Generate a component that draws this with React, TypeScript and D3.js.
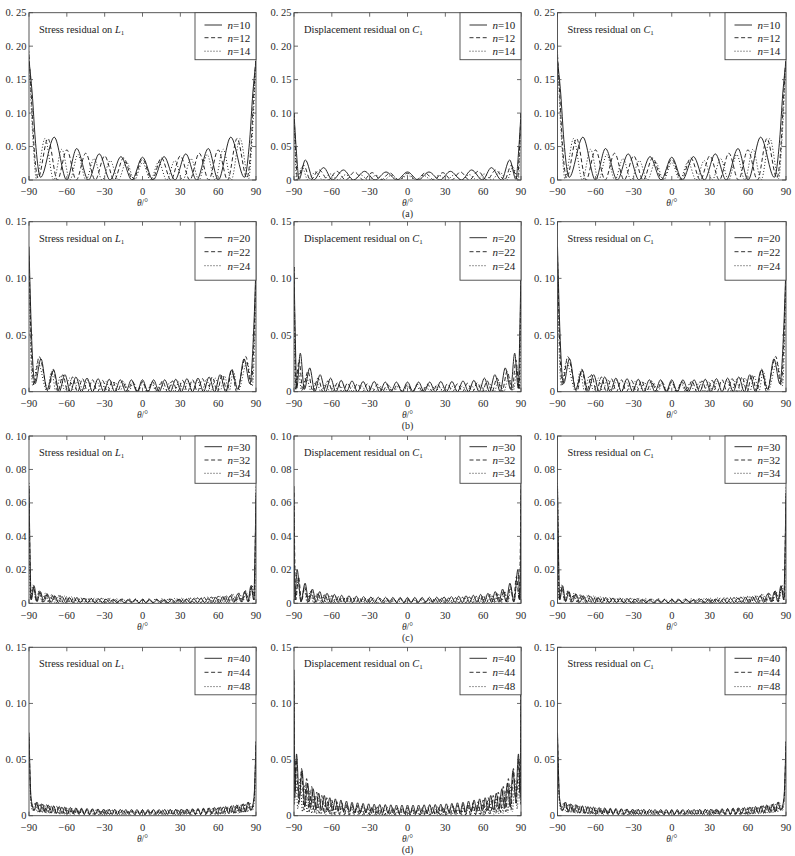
import React from "react";
import * as d3 from "d3";

// ---------- axis ticks ----------
const xTickValues = [-90, -60, -30, 0, 30, 60, 90];
const xTickLabels = ["\u221290", "\u221260", "\u221230", "0", "30", "60", "90"];
const yTicksA = [0, 0.05, 0.1, 0.15, 0.2, 0.25];
const yLabelsA = ["0", "0. 05", "0. 10", "0. 15", "0. 20", "0. 25"];
const yTicksB = [0, 0.05, 0.1, 0.15];
const yLabelsB = ["0", "0. 05", "0. 10", "0. 15"];
const yTicksC = [0, 0.02, 0.04, 0.06, 0.08, 0.1];
const yLabelsC = ["0", "0. 02", "0. 04", "0. 06", "0. 08", "0. 10"];

// ---------- legend n values ----------
const nA = [10, 12, 14];
const nB = [20, 22, 24];
const nC = [30, 32, 34];
const nD = [40, 44, 48];

const panelTags = ["(a)", "(b)", "(c)", "(d)"];
const titleMain = ["Stress residual on ", "Displacement residual on ", "Stress residual on "];
const titleSym = ["L", "C", "C"];

// ---------- series: flat [theta, value, theta, value, ...] ----------
// Row (a) stress
const aS10 = [-90,.178,-87.5,.13,-85,.06,-80.8,.004,-70,.064,-60.1,0,-52.2,.047,-42.9,0,-34.3,.039,-25.7,0,-17.1,.035,-8.4,0,0,.034,8.4,0,17.1,.035,25.7,0,34.3,.039,42.9,0,52.2,.047,60.1,0,70,.064,80.8,.004,85,.06,87.5,.13,90,.178];
const aS12 = [-90,.186,-88,.12,-86,.05,-82.8,.003,-75,.062,-67.5,0,-60,.045,-52.5,0,-45,.04,-37.5,0,-30,.036,-22.5,0,-15,.033,-7.5,0,0,.031,7.5,0,15,.033,22.5,0,30,.036,37.5,0,45,.04,52.5,0,60,.045,67.5,0,75,.062,82.8,.003,86,.05,88,.12,90,.186];
const aS14 = [-90,.192,-88.5,.12,-86.5,.05,-84.2,.002,-77.3,.062,-70.4,0,-64,.046,-57.6,0,-51.2,.038,-44.8,0,-38.4,.032,-32,0,-25.6,.029,-19.2,0,-12.8,.027,-6.4,0,0,.026,6.4,0,12.8,.027,19.2,0,25.6,.029,32,0,38.4,.032,44.8,0,51.2,.038,57.6,0,64,.046,70.4,0,77.3,.062,84.2,.002,86.5,.05,88.5,.12,90,.192];
// Row (a) displacement
const aD10 = [-90,.1,-88,.04,-86,.001,-81,.03,-74.5,0,-66.5,.0185,-59.5,0,-50.8,.015,-42.8,0,-34,.013,-25.7,0,-17,.012,-8.5,0,0,.012,8.5,0,17,.012,25.7,0,34,.013,42.8,0,50.8,.015,59.5,0,66.5,.0185,74.5,0,81,.03,86,.001,88,.04,90,.1];
const aD12 = [-90,.1,-88.6,.04,-87.3,.001,-82.3,.022,-77,0,-70,.015,-63,0,-56,.013,-49,0,-42,.012,-35,0,-28,.011,-21,0,-14,.0105,-7,0,0,.01,7,0,14,.0105,21,0,28,.011,35,0,42,.012,49,0,56,.013,63,0,70,.015,77,0,82.3,.022,87.3,.001,88.6,.04,90,.1];
const aD14 = [-90,.1,-89,.04,-88,.001,-83.5,.019,-79,0,-73,.012,-67,0,-61,.009,-55,0,-49,.008,-43,0,-37,.0075,-31,0,-25,.007,-19,0,-12.7,.007,-6.4,0,0,.007,6.4,0,12.7,.007,19,0,25,.007,31,0,37,.0075,43,0,49,.008,55,0,61,.009,67,0,73,.012,79,0,83.5,.019,88,.001,89,.04,90,.1];

// Row (b) stress
const bS20 = [-90,.128,-88,.05,-85.2,.007,-80.5,.029,-75.7,.002,-70.5,.019,-66,0,-61.5,.015,-57.2,0,-52.8,.013,-48.4,0,-44,.012,-39.6,0,-35.2,.0115,-30.8,0,-26.4,.011,-22,0,-17.6,.0105,-13.2,0,-8.8,.0105,-4.4,0,0,.0105,4.4,0,8.8,.0105,13.2,0,17.6,.0105,22,0,26.4,.011,30.8,0,35.2,.0115,39.6,0,44,.012,48.4,0,52.8,.013,57.2,0,61.5,.015,66,0,70.5,.019,75.7,.002,80.5,.029,85.2,.007,88,.05,90,.112];
const bS22 = [-90,.12,-88.5,.05,-86,.006,-82,.031,-74.6,0,-70.8,.02,-67,0,-63.15,.015,-59.3,0,-55.4,.013,-51.5,0,-47.55,.0115,-43.6,0,-39.65,.0105,-35.7,0,-31.75,.01,-27.8,0,-23.8,.0095,-19.85,0,-15.9,.0095,-11.9,0,-7.9,.009,-3.95,0,0,.009,3.95,0,7.9,.009,11.9,0,15.9,.0095,19.85,0,23.8,.0095,27.8,0,31.75,.01,35.7,0,39.65,.0105,43.6,0,47.55,.0115,51.5,0,55.4,.013,59.3,0,63.15,.015,67,0,70.8,.02,74.6,0,82,.031,86,.006,88.5,.05,90,.11];
const bS24 = [-90,.115,-89,.05,-87,.005,-83,.026,-75.6,0,-72.1,.018,-68.6,0,-65,.014,-61.5,0,-57.9,.012,-54.3,0,-50.7,.011,-47.1,0,-43.5,.01,-39.85,0,-36.2,.0095,-32.6,0,-29,.009,-25.35,0,-21.7,.0085,-18.1,0,-14.5,.008,-10.85,0,-7.25,.008,-3.6,0,0,.008,3.6,0,7.25,.008,10.85,0,14.5,.008,18.1,0,21.7,.0085,25.35,0,29,.009,32.6,0,36.2,.0095,39.85,0,43.5,.01,47.1,0,50.7,.011,54.3,0,57.9,.012,61.5,0,65,.014,68.6,0,72.1,.018,75.6,0,83,.026,87,.005,89,.05,90,.105];
// Row (b) displacement
const bD20 = [-90,.11,-89,.05,-87.8,.003,-85,.034,-81.8,.002,-77.5,.021,-73.5,0,-69.3,.015,-65,0,-61,.012,-56.8,0,-52.6,.01,-48.4,0,-44,.0095,-39.6,0,-35.2,.009,-30.8,0,-26.4,.009,-22,0,-17.6,.0085,-13.2,0,-8.8,.0085,-4.4,0,0,.0085,4.4,0,8.8,.0085,13.2,0,17.6,.0085,22,0,26.4,.009,30.8,0,35.2,.009,39.6,0,44,.0095,48.4,0,52.6,.01,56.8,0,61,.012,65,0,69.3,.015,73.5,0,77.5,.021,81.8,.002,85,.034,87.8,.003,89,.05,90,.11];
const bD22 = [-90,.11,-89.3,.05,-88.5,.002,-86,.028,-83,.001,-79,.018,-75,0,-71,.012,-67,0,-63.15,.0095,-59.3,0,-55.4,.008,-51.5,0,-47.55,.0075,-43.6,0,-39.65,.007,-35.7,0,-31.75,.007,-27.8,0,-23.8,.0065,-19.85,0,-15.9,.0065,-11.9,0,-7.9,.0065,-3.95,0,0,.0065,3.95,0,7.9,.0065,11.9,0,15.9,.0065,19.85,0,23.8,.0065,27.8,0,31.75,.007,35.7,0,39.65,.007,43.6,0,47.55,.0075,51.5,0,55.4,.008,59.3,0,63.15,.0095,67,0,71,.012,75,0,79,.018,83,.001,86,.028,88.5,.002,89.3,.05,90,.11];
const bD24 = [-90,.11,-89.5,.05,-89,.002,-86.8,.02,-84,.001,-80.3,.013,-76.3,0,-72.4,.009,-68.6,0,-65,.007,-61.5,0,-57.9,.006,-54.3,0,-50.7,.0055,-47.1,0,-43.5,.005,-39.85,0,-36.2,.005,-32.6,0,-29,.0048,-25.35,0,-21.7,.0048,-18.1,0,-14.5,.0048,-10.85,0,-7.25,.0048,-3.6,0,0,.0048,3.6,0,7.25,.0048,10.85,0,14.5,.0048,18.1,0,21.7,.0048,25.35,0,29,.0048,32.6,0,36.2,.005,39.85,0,43.5,.005,47.1,0,50.7,.0055,54.3,0,57.9,.006,61.5,0,65,.007,68.6,0,72.4,.009,76.3,0,80.3,.013,84,.001,86.8,.02,89,.002,89.5,.05,90,.11];

// Row (c) stress
const cS30 = [-90,.07,-89.2,.03,-88.2,.002,-86,.0105,-83.6,.001,-81,.007,-78.3,.0008,-75.4,.0055,-72.5,.0005,-69.6,.0045,-66.7,.0005,-63.8,.004,-60.9,.0004,-58,.0035,-55.1,.0004,-52.2,.0032,-49.3,.0003,-46.4,.003,-43.5,.0003,-40.6,.0028,-37.7,.0003,-34.8,.0026,-31.9,.0003,-29,.0025,-26.1,.0003,-23.2,.0024,-20.3,.0003,-17.4,.0023,-14.5,.0003,-11.6,.0022,-8.7,.0003,-5.8,.0022,-2.9,.0003,0,.0022,2.9,.0003,5.8,.0022,8.7,.0003,11.6,.0022,14.5,.0003,17.4,.0023,20.3,.0003,23.2,.0024,26.1,.0003,29,.0025,31.9,.0003,34.8,.0026,37.7,.0003,40.6,.0028,43.5,.0003,46.4,.003,49.3,.0003,52.2,.0032,55.1,.0004,58,.0035,60.9,.0004,63.8,.004,66.7,.0005,69.6,.0045,72.5,.0005,75.4,.0055,78.3,.0008,81,.007,83.6,.001,86,.0105,88.2,.002,89.2,.03,90,.066];
const cS32 = [-90,.068,-89.3,.03,-88.6,.002,-86.4,.0095,-84,.001,-81.6,.0075,-79,.0007,-76.3,.006,-73.6,.0005,-70.85,.0053,-68.1,.0004,-65.4,.0047,-62.7,.0003,-59.95,.0042,-57.2,.0003,-54.5,.0038,-51.8,.0003,-49.05,.0035,-46.3,.0003,-43.6,.0033,-40.9,.0003,-38.15,.0031,-35.4,.0003,-32.7,.003,-30,.0003,-27.25,.0028,-24.5,.0003,-21.8,.0027,-19.1,.0003,-16.35,.0026,-13.6,.0003,-10.9,.0025,-8.2,.0003,-5.45,.0025,-2.7,.0003,0,.0025,2.7,.0003,5.45,.0025,8.2,.0003,10.9,.0025,13.6,.0003,16.35,.0026,19.1,.0003,21.8,.0027,24.5,.0003,27.25,.0028,30,.0003,32.7,.003,35.4,.0003,38.15,.0031,40.9,.0003,43.6,.0033,46.3,.0003,49.05,.0035,51.8,.0003,54.5,.0038,57.2,.0003,59.95,.0042,62.7,.0003,65.4,.0047,68.1,.0004,70.85,.0053,73.6,.0005,76.3,.006,79,.0007,81.6,.0075,84,.001,86.4,.0095,88.6,.002,89.3,.03,90,.064];
const cS34 = [-90,.072,-88.9,.003,-86.8,.011,-84.4,.0012,-82,.0075,-79.6,.0008,-77.1,.006,-74.5,.0006,-72,.0053,-69.4,.0004,-66.8,.0047,-64.3,.0004,-61.7,.0043,-59.1,.0004,-56.5,.004,-54,.0004,-51.4,.0037,-48.8,.0004,-46.3,.0035,-43.7,.0004,-41.1,.0034,-38.6,.0004,-36,.0032,-33.4,.0004,-30.8,.0031,-28.3,.0004,-25.7,.003,-23.1,.0004,-20.6,.0029,-18,.0004,-15.4,.0028,-12.9,.0004,-10.3,.0028,-7.7,.0004,-5.1,.0027,-2.6,.0004,0,.0027,2.6,.0004,5.1,.0027,7.7,.0004,10.3,.0028,12.9,.0004,15.4,.0028,18,.0004,20.6,.0029,23.1,.0004,25.7,.003,28.3,.0004,30.8,.0031,33.4,.0004,36,.0032,38.6,.0004,41.1,.0034,43.7,.0004,46.3,.0035,48.8,.0004,51.4,.0037,54,.0004,56.5,.004,59.1,.0004,61.7,.0043,64.3,.0004,66.8,.0047,69.4,.0004,72,.0053,74.5,.0006,77.1,.006,79.6,.0008,82,.0075,84.4,.0012,86.8,.011,88.9,.003,90,.07];
// Row (c) displacement
const cD30 = [-90,.07,-89.3,.002,-87.5,.02,-84.5,.001,-81.2,.012,-78.3,.0008,-75.4,.0085,-72.5,.0006,-69.6,.007,-66.7,.0005,-63.8,.006,-60.9,.0005,-58,.0053,-55.1,.0005,-52.2,.0048,-49.3,.0005,-46.4,.0045,-43.5,.0005,-40.6,.0042,-37.7,.0005,-34.8,.004,-31.9,.0005,-29,.0038,-26.1,.0005,-23.2,.0037,-20.3,.0005,-17.4,.0036,-14.5,.0005,-11.6,.0035,-8.7,.0005,-5.8,.0035,-2.9,.0005,0,.0035,2.9,.0005,5.8,.0035,8.7,.0005,11.6,.0035,14.5,.0005,17.4,.0036,20.3,.0005,23.2,.0037,26.1,.0005,29,.0038,31.9,.0005,34.8,.004,37.7,.0005,40.6,.0042,43.5,.0005,46.4,.0045,49.3,.0005,52.2,.0048,55.1,.0005,58,.0053,60.9,.0005,63.8,.006,66.7,.0005,69.6,.007,72.5,.0006,75.4,.0085,78.3,.0008,81.2,.012,84.5,.001,87.5,.02,89.3,.002,90,.078];
const cD32 = [-90,.066,-88.6,.002,-86.4,.016,-84,.001,-81.6,.01,-79,.0006,-76.3,.0075,-73.6,.0004,-70.85,.006,-68.1,.0003,-65.4,.0053,-62.7,.0003,-59.95,.0047,-57.2,.0003,-54.5,.0042,-51.8,.0003,-49.05,.0038,-46.3,.0003,-43.6,.0036,-40.9,.0003,-38.15,.0034,-35.4,.0003,-32.7,.0032,-30,.0003,-27.25,.0031,-24.5,.0003,-21.8,.003,-19.1,.0003,-16.35,.0029,-13.6,.0003,-10.9,.0028,-8.2,.0003,-5.45,.0028,-2.7,.0003,0,.0028,2.7,.0003,5.45,.0028,8.2,.0003,10.9,.0028,13.6,.0003,16.35,.0029,19.1,.0003,21.8,.003,24.5,.0003,27.25,.0031,30,.0003,32.7,.0032,35.4,.0003,38.15,.0034,40.9,.0003,43.6,.0036,46.3,.0003,49.05,.0038,51.8,.0003,54.5,.0042,57.2,.0003,59.95,.0047,62.7,.0003,65.4,.0053,68.1,.0003,70.85,.006,73.6,.0004,76.3,.0075,79,.0006,81.6,.01,84,.001,86.4,.016,88.6,.002,90,.07];
const cD34 = [-90,.06,-88.9,.002,-86.8,.013,-84.4,.0008,-82,.009,-79.6,.0005,-77.1,.007,-74.5,.0003,-72,.0056,-69.4,.0002,-66.8,.0048,-64.3,.0002,-61.7,.0042,-59.1,.0002,-56.5,.0037,-54,.0002,-51.4,.0033,-48.8,.0002,-46.3,.003,-43.7,.0002,-41.1,.0028,-38.6,.0002,-36,.0026,-33.4,.0002,-30.8,.0024,-28.3,.0002,-25.7,.0023,-23.1,.0002,-20.6,.0022,-18,.0002,-15.4,.0021,-12.9,.0002,-10.3,.002,-7.7,.0002,-5.1,.002,-2.6,.0002,0,.002,2.6,.0002,5.1,.002,7.7,.0002,10.3,.002,12.9,.0002,15.4,.0021,18,.0002,20.6,.0022,23.1,.0002,25.7,.0023,28.3,.0002,30.8,.0024,33.4,.0002,36,.0026,38.6,.0002,41.1,.0028,43.7,.0002,46.3,.003,48.8,.0002,51.4,.0033,54,.0002,56.5,.0037,59.1,.0002,61.7,.0042,64.3,.0002,66.8,.0048,69.4,.0002,72,.0056,74.5,.0003,77.1,.007,79.6,.0005,82,.009,84.4,.0008,86.8,.013,88.9,.002,90,.065];

// Row (d) stress
const dS40 = [-90,.074,-88.3,.015,-85.8,.005,-83.6,.012,-81.4,.0032,-79.2,.0103,-77,.0027,-74.8,.0095,-72.6,.0023,-70.4,.0088,-68.2,.002,-66,.0082,-63.8,.0018,-61.6,.0077,-59.4,.0016,-57.2,.0073,-55,.0015,-52.8,.007,-50.6,.0014,-48.4,.0067,-46.2,.0013,-44,.0064,-41.8,.0012,-39.6,.0062,-37.4,.0012,-35.2,.006,-33,.0012,-30.8,.0059,-28.6,.0012,-26.4,.0058,-24.2,.0012,-22,.0057,-19.8,.0012,-17.6,.0056,-15.4,.0012,-13.2,.0055,-11,.0012,-8.8,.0055,-6.6,.0012,-4.4,.0055,-2.2,.0012,0,.0055,2.2,.0012,4.4,.0055,6.6,.0012,8.8,.0055,11,.0012,13.2,.0055,15.4,.0012,17.6,.0056,19.8,.0012,22,.0057,24.2,.0012,26.4,.0058,28.6,.0012,30.8,.0059,33,.0012,35.2,.006,37.4,.0012,39.6,.0062,41.8,.0012,44,.0064,46.2,.0013,48.4,.0067,50.6,.0014,52.8,.007,55,.0015,57.2,.0073,59.4,.0016,61.6,.0077,63.8,.0018,66,.0082,68.2,.002,70.4,.0088,72.6,.0023,74.8,.0095,77,.0027,79.2,.0103,81.4,.0032,83.6,.012,85.8,.005,88.3,.015,90,.066];
const dS44 = [-90,.07,-88.4,.014,-86,.0045,-84,.012,-82,.0032,-80,.0106,-78,.0027,-76,.0098,-74,.0023,-72,.009,-70,.002,-68,.0083,-66,.0017,-64,.0077,-62,.0015,-60,.0072,-58,.0013,-56,.0068,-54,.0012,-52,.0065,-50,.0011,-48,.0062,-46,.001,-44,.0059,-42,.001,-40,.0057,-38,.001,-36,.0055,-34,.001,-32,.0053,-30,.001,-28,.0052,-26,.001,-24,.0051,-22,.001,-20,.005,-18,.001,-16,.0049,-14,.001,-12,.0048,-10,.001,-8,.0048,-6,.001,-4,.0048,-2,.001,0,.0048,2,.001,4,.0048,6,.001,8,.0048,10,.001,12,.0048,14,.001,16,.0049,18,.001,20,.005,22,.001,24,.0051,26,.001,28,.0052,30,.001,32,.0053,34,.001,36,.0055,38,.001,40,.0057,42,.001,44,.0059,46,.001,48,.0062,50,.0011,52,.0065,54,.0012,56,.0068,58,.0013,60,.0072,62,.0015,64,.0077,66,.0017,68,.0083,70,.002,72,.009,74,.0023,76,.0098,78,.0027,80,.0106,82,.0032,84,.012,86,.0045,88.4,.014,90,.066];
const dS48 = [-90,.068,-88.6,.013,-87,.0045,-85.1,.0115,-83.3,.0031,-81.4,.0104,-79.6,.0026,-77.7,.0095,-75.9,.0022,-74,.0087,-72.2,.0019,-70.3,.008,-68.5,.0016,-66.6,.0074,-64.8,.0014,-62.9,.0069,-61.1,.0012,-59.2,.0065,-57.4,.0011,-55.5,.0061,-53.7,.001,-51.8,.0058,-50,.0009,-48.1,.0055,-46.3,.0008,-44.4,.0053,-42.6,.0008,-40.7,.0051,-38.9,.0008,-37,.0049,-35.2,.0008,-33.3,.0047,-31.5,.0008,-29.6,.0046,-27.8,.0008,-25.9,.0045,-24.1,.0008,-22.2,.0044,-20.4,.0008,-18.5,.0043,-16.7,.0008,-14.8,.0043,-13,.0008,-11.1,.0042,-9.3,.0008,-7.4,.0042,-5.6,.0008,-3.7,.0042,-1.9,.0008,0,.0042,1.9,.0008,3.7,.0042,5.6,.0008,7.4,.0042,9.3,.0008,11.1,.0042,13,.0008,14.8,.0043,16.7,.0008,18.5,.0043,20.4,.0008,22.2,.0044,24.1,.0008,25.9,.0045,27.8,.0008,29.6,.0046,31.5,.0008,33.3,.0047,35.2,.0008,37,.0049,38.9,.0008,40.7,.0051,42.6,.0008,44.4,.0053,46.3,.0008,48.1,.0055,50,.0009,51.8,.0058,53.7,.001,55.5,.0061,57.4,.0011,59.2,.0065,61.1,.0012,62.9,.0069,64.8,.0014,66.6,.0074,68.5,.0016,70.3,.008,72.2,.0019,74,.0087,75.9,.0022,77.7,.0095,79.6,.0026,81.4,.0104,83.3,.0031,85.1,.0115,87,.0045,88.6,.013,90,.064];
// Row (d) displacement
const dD40 = [-90,.13,-89.2,.02,-88,.055,-85.8,.015,-83.6,.04,-81.4,.008,-79.2,.029,-77,.0065,-74.8,.024,-72.6,.0055,-70.4,.02,-68.2,.005,-66,.018,-63.8,.0046,-61.6,.016,-59.4,.0042,-57.2,.015,-55,.0038,-52.8,.014,-50.6,.0035,-48.4,.013,-46.2,.0032,-44,.012,-41.8,.003,-39.6,.0115,-37.4,.0028,-35.2,.011,-33,.0026,-30.8,.0106,-28.6,.0024,-26.4,.0103,-24.2,.0022,-22,.01,-19.8,.002,-17.6,.0099,-15.4,.002,-13.2,.0097,-11,.002,-8.8,.0095,-6.6,.002,-4.4,.0095,-2.2,.002,0,.0095,2.2,.002,4.4,.0095,6.6,.002,8.8,.0095,11,.002,13.2,.0097,15.4,.002,17.6,.0099,19.8,.002,22,.01,24.2,.0022,26.4,.0103,28.6,.0024,30.8,.0106,33,.0026,35.2,.011,37.4,.0028,39.6,.0115,41.8,.003,44,.012,46.2,.0032,48.4,.013,50.6,.0035,52.8,.014,55,.0038,57.2,.015,59.4,.0042,61.6,.016,63.8,.0046,66,.018,68.2,.005,70.4,.02,72.6,.0055,74.8,.024,77,.0065,79.2,.029,81.4,.008,83.6,.04,85.8,.015,88,.055,89.2,.02,90,.125];
const dD44 = [-90,.12,-89.4,.015,-88.5,.05,-86,.01,-84,.042,-82,.005,-80,.033,-78,.0035,-76,.026,-74,.0028,-72,.021,-70,.0022,-68,.018,-66,.0018,-64,.016,-62,.0015,-60,.014,-58,.0012,-56,.0125,-54,.001,-52,.0115,-50,.0008,-48,.0105,-46,.0007,-44,.0098,-42,.0006,-40,.0092,-38,.0005,-36,.0087,-34,.0005,-32,.0083,-30,.0005,-28,.008,-26,.0005,-24,.0078,-22,.0005,-20,.0076,-18,.0005,-16,.0074,-14,.0005,-12,.0073,-10,.0005,-8,.0072,-6,.0005,-4,.0072,-2,.0005,0,.0072,2,.0005,4,.0072,6,.0005,8,.0072,10,.0005,12,.0073,14,.0005,16,.0074,18,.0005,20,.0076,22,.0005,24,.0078,26,.0005,28,.008,30,.0005,32,.0083,34,.0005,36,.0087,38,.0005,40,.0092,42,.0006,44,.0098,46,.0007,48,.0105,50,.0008,52,.0115,54,.001,56,.0125,58,.0012,60,.014,62,.0015,64,.016,66,.0018,68,.018,70,.0022,72,.021,74,.0028,76,.026,78,.0035,80,.033,82,.005,84,.042,86,.01,88.5,.05,89.4,.015,90,.115];
const dD48 = [-90,.11,-89.6,.01,-88.8,.04,-87,.006,-85.1,.033,-83.3,.0035,-81.4,.027,-79.6,.0025,-77.7,.022,-75.9,.002,-74,.018,-72.2,.0015,-70.3,.0155,-68.5,.0012,-66.6,.0135,-64.8,.001,-62.9,.012,-61.1,.0008,-59.2,.0105,-57.4,.0006,-55.5,.0095,-53.7,.0005,-51.8,.0087,-50,.0004,-48.1,.008,-46.3,.0003,-44.4,.0075,-42.6,.0002,-40.7,.007,-38.9,.0002,-37,.0066,-35.2,.0002,-33.3,.0063,-31.5,.0002,-29.6,.006,-27.8,.0002,-25.9,.0057,-24.1,.0002,-22.2,.0055,-20.4,.0002,-18.5,.0053,-16.7,.0002,-14.8,.0052,-13,.0002,-11.1,.0051,-9.3,.0002,-7.4,.005,-5.6,.0002,-3.7,.005,-1.9,.0002,0,.005,1.9,.0002,3.7,.005,5.6,.0002,7.4,.005,9.3,.0002,11.1,.0051,13,.0002,14.8,.0052,16.7,.0002,18.5,.0053,20.4,.0002,22.2,.0055,24.1,.0002,25.9,.0057,27.8,.0002,29.6,.006,31.5,.0002,33.3,.0063,35.2,.0002,37,.0066,38.9,.0002,40.7,.007,42.6,.0002,44.4,.0075,46.3,.0003,48.1,.008,50,.0004,51.8,.0087,53.7,.0005,55.5,.0095,57.4,.0006,59.2,.0105,61.1,.0008,62.9,.012,64.8,.001,66.6,.0135,68.5,.0012,70.3,.0155,72.2,.0015,74,.018,75.9,.002,77.7,.022,79.6,.0025,81.4,.027,83.3,.0035,85.1,.033,87,.006,88.8,.04,89.6,.01,90,.105];

// ---------- layout ----------
const FONT = "'Liberation Serif', 'Times New Roman', serif";
const INK = "#1c1c1c";
const FRAME = "#454545";
const colLeft = [29, 294, 557.5];
const colWidth = [227, 227, 228.5];
const dashes = ["none", "4,2.6", "1,2"];

type Row = {
  top: number; bottom: number; yMax: number; yTicks: number[]; yLabels: string[];
  ns: number[]; stress: number[][]; disp: number[][]; legendH: number; legendY: number[];
};

const rows: Row[] = [
  { top: 12.7, bottom: 180, yMax: 0.25, yTicks: yTicksA, yLabels: yLabelsA, ns: nA, stress: [aS10, aS12, aS14], disp: [aD10, aD12, aD14], legendH: 47, legendY: [12.3, 25, 38.5] },
  { top: 221.7, bottom: 391.7, yMax: 0.15, yTicks: yTicksB, yLabels: yLabelsB, ns: nB, stress: [bS20, bS22, bS24], disp: [bD20, bD22, bD24], legendH: 58.5, legendY: [16, 30, 44] },
  { top: 436, bottom: 603.3, yMax: 0.1, yTicks: yTicksC, yLabels: yLabelsC, ns: nC, stress: [cS30, cS32, cS34], disp: [cD30, cD32, cD34], legendH: 47.3, legendY: [10.7, 24, 37.3] },
  { top: 647.3, bottom: 815.7, yMax: 0.15, yTicks: yTicksB, yLabels: yLabelsB, ns: nD, stress: [dS40, dS44, dS48], disp: [dD40, dD44, dD48], legendH: 47.5, legendY: [11, 25, 39.3] },
];

const toPairs = (a: number[]): [number, number][] => {
  const r: [number, number][] = [];
  for (let i = 0; i < a.length; i += 2) r.push([a[i], a[i + 1]]);
  return r;
};

function Panel({ ri, ci }: { ri: number; ci: number }) {
  const row = rows[ri];
  const x0 = colLeft[ci];
  const w = colWidth[ci];
  const x = d3.scaleLinear().domain([-90, 90]).range([x0, x0 + w]);
  const y = d3.scaleLinear().domain([0, row.yMax]).range([row.bottom, row.top]);
  const line = d3
    .line<[number, number]>()
    .x((d) => x(d[0]))
    .y((d) => y(d[1]))
    .curve(d3.curveMonotoneX);
  const series = ci === 1 ? row.disp : row.stress;
  const clipId = `clip-${ri}-${ci}`;
  const right = x0 + w;
  const tk = 4;
  const lgL = right - 61;
  return (
    <g>
      <defs>
        <clipPath id={clipId}>
          <rect x={x0} y={row.top} width={w} height={row.bottom - row.top} />
        </clipPath>
      </defs>
      <g clipPath={`url(#${clipId})`}>
        {series.map((s, i) => (
          <path
            key={i}
            d={line(toPairs(s)) || ""}
            fill="none"
            stroke={INK}
            strokeWidth={0.95}
            strokeDasharray={dashes[i]}
          />
        ))}
      </g>
      {/* frame */}
      <rect x={x0} y={row.top} width={w} height={row.bottom - row.top} fill="none" stroke={FRAME} strokeWidth={0.9} />
      {/* x ticks */}
      {xTickValues.map((v, i) => (
        <g key={"x" + i}>
          <line x1={x(v)} x2={x(v)} y1={row.bottom} y2={row.bottom - tk} stroke={FRAME} strokeWidth={0.8} />
          <line x1={x(v)} x2={x(v)} y1={row.top} y2={row.top + tk} stroke={FRAME} strokeWidth={0.8} />
          <text x={x(v)} y={row.bottom + 15.3} textAnchor="middle" fontSize={10.5} fontFamily={FONT} fill="#2a2a2a">
            {xTickLabels[i]}
          </text>
        </g>
      ))}
      {/* y ticks */}
      {row.yTicks.map((v, i) => (
        <g key={"y" + i}>
          <line x1={x0} x2={x0 + tk} y1={y(v)} y2={y(v)} stroke={FRAME} strokeWidth={0.8} />
          <line x1={right} x2={right - tk} y1={y(v)} y2={y(v)} stroke={FRAME} strokeWidth={0.8} />
          <text x={x0 - 2.5} y={y(v) + 3.5} textAnchor="end" fontSize={10.5} fontFamily={FONT} fill="#2a2a2a">
            {row.yLabels[i]}
          </text>
        </g>
      ))}
      {/* x label */}
      <text x={x(0)} y={row.bottom + 26.2} textAnchor="middle" fontSize={9.5} fontFamily={FONT} fill="#2a2a2a">
        <tspan fontStyle="italic">θ</tspan>/°
      </text>
      {/* title */}
      <text x={x0 + 10} y={row.top + 20} fontSize={10.4} fontFamily={FONT} fill={INK}>
        {titleMain[ci]}
        <tspan fontStyle="italic">{titleSym[ci]}</tspan>
        <tspan fontSize={7} dy={2}>1</tspan>
      </text>
      {/* legend */}
      <rect x={lgL} y={row.top} width={right - lgL} height={row.legendH} fill="white" stroke={FRAME} strokeWidth={0.9} />
      {row.ns.map((n, i) => (
        <g key={"l" + i}>
          <line
            x1={right - 51.5}
            x2={right - 34}
            y1={row.top + row.legendY[i]}
            y2={row.top + row.legendY[i]}
            stroke={INK}
            strokeWidth={0.9}
            strokeDasharray={dashes[i]}
          />
          <text x={right - 28.5} y={row.top + row.legendY[i] + 3.8} fontSize={11} fontFamily={FONT} fill={INK}>
            <tspan fontStyle="italic">n</tspan>={n}
          </text>
        </g>
      ))}
      {ci === 1 && (
        <text x={x(0)} y={row.bottom + 37.3} textAnchor="middle" fontSize={10} fontFamily={FONT} fill="#2a2a2a">
          {panelTags[ri]}
        </text>
      )}
    </g>
  );
}

export default function App() {
  return (
    <svg
      width={795}
      height={856}
      style={{ position: "absolute", left: 0, top: 0, background: "white" }}
    >
      <rect x={0} y={0} width={795} height={856} fill="white" />
      {rows.map((_, ri) => [0, 1, 2].map((ci) => <Panel key={ri + "-" + ci} ri={ri} ci={ci} />))}
    </svg>
  );
}
